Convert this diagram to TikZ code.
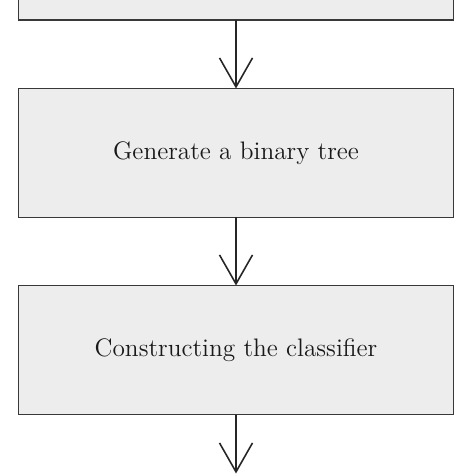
\documentclass[tikz,border=0pt]{standalone}
\usepackage{tikz}
\usetikzlibrary{positioning,arrows.meta}
\tikzset{
stepbox/.style={
	  draw=black!78, fill=black!7, line width=0.85pt,
	    minimum width=8.7cm, minimum height=2.58cm,
    inner sep=0pt, outer sep=0pt, text=black!90,
    font=\fontsize{14.4}{16}\selectfont},
flow/.style={
	  draw=black!85, line width=0.9pt,
	    -{Straight Barb[length=0.58cm, width=0.66cm, line width=0.9pt]}}
}

\begin{document}
\begin{tikzpicture}[node distance=1.37cm]
	\useasboundingbox (0,0) rectangle (9.48,-9.48);
	\node[stepbox] (start) at (4.72,0.89) {};
	\node[stepbox, below=of start] (bintree) {Generate a binary tree};
	\node[stepbox, below=1.36cm of bintree] (classifier) {Constructing the classifier};
	\coordinate (next) at (4.72,-9.47);
	\draw[flow] (start) -- (bintree);
	\draw[flow] (bintree) -- (classifier);
	\draw[flow] (classifier) -- (next);
\end{tikzpicture}
\end{document}
